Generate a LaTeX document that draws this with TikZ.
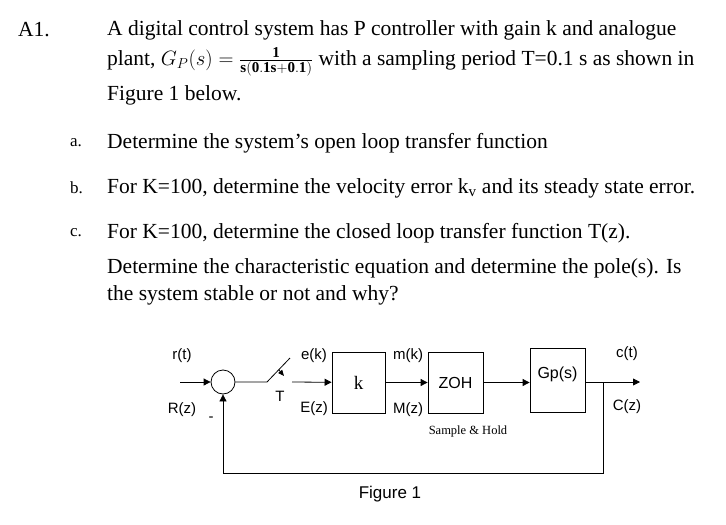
\documentclass[tikz,border=0pt]{standalone}
\usepackage{fontspec}
\setmainfont{Liberation Serif}
\setsansfont{Liberation Sans}
\usepackage{amsmath}
\usetikzlibrary{arrows.meta}
\begin{document}
\begin{tikzpicture}[x=1pt,y=-1pt,
  txt/.style={anchor=west, inner sep=0pt, font=\fontsize{21.5}{24}\selectfont},
  enum/.style={anchor=west, inner sep=0pt, font=\fontsize{17}{19}\selectfont},
  lbl/.style={inner sep=0pt, font=\sffamily\fontsize{15}{17}\selectfont},
  blk/.style={draw, thick, inner sep=0pt},
  sig/.style={thick, -{Triangle[length=7pt,width=7pt]}}]
\useasboundingbox (0,0) rectangle (726,525);
% question text
\node[txt] (qa) at (18,30) {A1.};
\node[txt] (l1) at (107,30) {A digital control system has P controller with gain k and analogue};
\node[txt] (l2) at (107,62) {plant, $G_P(s)=\frac{\mathbf{1}}{\mathbf{s(0.1s+0.1)}}$ with a sampling period T=0.1 s as shown in};
\node[txt] (l3) at (107,95) {Figure 1 below.};
\node[enum] (pa) at (70,143) {a.};
\node[txt] (ta) at (107,143) {Determine the system’s open loop transfer function};
\node[enum] (pb) at (70,188) {b.};
\node[txt] (tb) at (107,188) {For K=100, determine the velocity error k$_\text{v}$ and its steady state error.};
\node[enum] (pc) at (70,233) {c.};
\node[txt] (tc) at (107,233) {For K=100, determine the closed loop transfer function T(z).};
\node[txt] (td) at (107,268) {Determine the characteristic equation and determine the pole(s). Is};
\node[txt] (te) at (107,295) {the system stable or not and why?};

% block diagram
\coordinate (in) at (180,382);
\node[draw, thick, circle, minimum size=24pt, inner sep=0pt] (sum) at (223,382) {};
\coordinate (sw1) at (267,382);
\coordinate (sw2) at (290,358);
\coordinate (sw3) at (292,382);
\node[blk, minimum width=53pt, minimum height=61pt] (kb) at (358.5,382.5) {\fontsize{19}{21}\selectfont k};
\node[blk, minimum width=55pt, minimum height=61pt] (zoh) at (455.5,382.5) {\sffamily\fontsize{16}{18}\selectfont ZOH};
\node[blk, minimum width=55pt, minimum height=64pt, text depth=14pt] (gp) at (557.5,380) {\sffamily\fontsize{16}{18}\selectfont Gp(s)};
\coordinate (out) at (640,382);
\coordinate (br) at (603,382);
\coordinate (bl) at (603,473);
\coordinate (fb) at (223,473);

\draw[sig] (in) -- (sum);
\draw[thick] (sum) -- (sw1) -- (sw2);
\draw[thick, -{Triangle[length=6pt,width=5pt]}] (279,370) -- (284,376);
\draw[sig] (sw3) -- (kb);
\draw[sig] (kb) -- (zoh);
\draw[sig] (zoh.east) -- (gp.west |- zoh.east);
\draw[sig] (gp.east |- out) -- (out);
\draw[thick] (br) -- (bl) -- (fb);
\draw[sig] (fb) -- (sum);

\node[lbl] (rt) at (182,356) {r(t)};
\node[lbl] (rz) at (182,410) {R(z)};
\node[lbl] (mn) at (211,419) {-};
\node[lbl] (tt) at (280,396) {T};
\node[lbl] (ek) at (314,356) {e(k)};
\node[lbl] (ez) at (314,409) {E(z)};
\node[lbl] (mk) at (408,356) {m(k)};
\node[lbl] (mz) at (408,410) {M(z)};
\node[lbl] (ct) at (627,354) {c(t)};
\node[lbl] (cz) at (627,407) {C(z)};
\node[inner sep=0pt, font=\fontsize{12.5}{14}\selectfont] (sh) at (468,431) {Sample \& Hold};
\node[lbl, font=\sffamily\fontsize{17}{19}\selectfont] (fig) at (390,494) {Figure 1};
\end{tikzpicture}
\end{document}
